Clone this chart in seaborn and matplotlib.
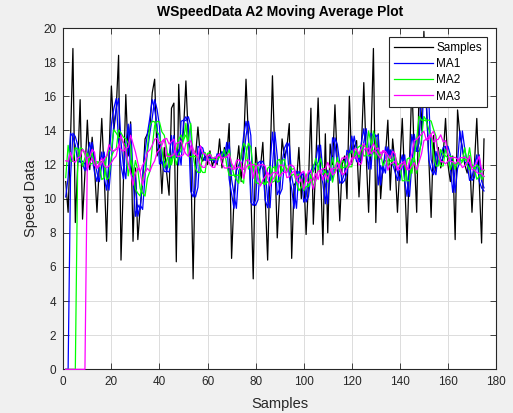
import matplotlib
matplotlib.use('Agg')
import matplotlib.pyplot as plt
import numpy as np
import pandas as pd
import seaborn as sns

# wind speed samples (x = 1..175)
samples = [
    11.0, 9.2, 13.5, 18.8, 8.6, 12.0, 15.8, 8.8, 11.5, 14.6, 11.7, 13.6, 11.8, 9.2, 12.0, 14.7, 11.5, 7.5, 12.5, 16.6, 14.0, 15.2, 18.4, 6.4, 11.0,
    16.1, 12.5, 14.5, 7.5, 11.8, 7.6, 9.5, 11.0, 13.5, 13.8, 14.2, 16.2, 17.0, 12.5, 13.3, 10.3, 13.0, 11.5, 10.2, 15.3, 15.6, 6.3, 16.7, 12.9, 14.0,
    16.9, 13.5, 12.5, 5.3, 12.5, 14.2, 12.5, 12.2, 12.5, 12.0, 12.8, 11.9, 12.4, 12.0, 13.5, 11.8, 13.0, 12.5, 14.4, 6.5, 10.0, 11.8, 13.1, 11.0, 13.0,
    17.0, 13.6, 10.5, 5.3, 13.0, 11.5, 11.8, 13.3, 10.0, 6.4, 12.0, 17.2, 12.5, 7.7, 10.5, 13.5, 12.4, 13.0, 14.4, 6.5, 10.8, 11.0, 13.0, 10.0, 11.5,
    7.9, 11.0, 15.3, 8.5, 12.0, 15.9, 11.5, 7.3, 13.8, 8.0, 13.2, 12.0, 15.5, 12.0, 8.7, 12.0, 12.5, 10.0, 16.0, 12.0, 13.0, 13.4, 10.1, 13.0, 16.8,
    12.5, 9.2, 13.5, 18.8, 8.6, 13.8, 10.0, 12.0, 12.5, 14.6, 10.5, 13.5, 12.0, 9.2, 12.0, 14.7, 11.0, 7.4, 12.0, 16.8, 12.5, 9.2, 16.6, 14.0, 19.8,
    15.5, 12.5, 8.9, 13.7, 11.6, 13.0, 11.8, 12.5, 14.7, 12.0, 11.0, 12.5, 7.6, 15.2, 13.7, 13.0, 12.0, 11.5, 12.5, 9.2, 12.0, 14.7, 11.0, 7.4, 13.5,
]
windows = [3, 6, 10]
names = ['MA1', 'MA2', 'MA3']
colors = ['#0000ff', '#00ff00', '#ff00ff']

x = np.arange(1, len(samples) + 1)
s = pd.Series(samples, index=x)


def centered_mean(vals, k):
    # like matlab movmean: shrinks at the ends
    before = k // 2
    after = k - before - 1
    out = []
    for i in range(len(vals)):
        out.append(np.mean(vals[max(0, i - before):i + after + 1]))
    return np.array(out)


plt.rcParams['font.family'] = ['Liberation Sans', 'DejaVu Sans']
fig = plt.figure(figsize=(5.13, 4.13), dpi=100, facecolor='#f0f0f0')
ax = fig.add_axes([0.1234, 0.1058, 0.8435, 0.8264])
ax.set_facecolor('white')

sns.lineplot(x=x, y=samples, color='black', linewidth=0.9, ax=ax)
handles = [ax.lines[-1]]
for k, name, c in zip(windows, names, colors):
    trailing = s.rolling(k).mean().fillna(0).values
    sns.lineplot(x=x, y=trailing, color=c, linewidth=0.9, ax=ax, clip_on=False)
    handles.append(ax.lines[-1])
    sns.lineplot(x=x, y=centered_mean(np.array(samples), k), color=c, linewidth=0.9, ax=ax)

ax.set_xlim(0, 180)
ax.set_ylim(0, 20)
ax.set_xticks(range(0, 181, 20))
ax.set_yticks(range(0, 21, 2))
ax.grid(True, color='#dcdcdc', linewidth=0.7)
ax.set_axisbelow(True)
for sp in ax.spines.values():
    sp.set_color('#262626')
    sp.set_linewidth(0.8)
    sp.set_zorder(1.5)
ax.tick_params(direction='in', top=True, right=True, labelsize=8.5, colors='#262626', length=4, width=0.6, pad=5)

ax.set_title('WSpeedData A2 Moving Average Plot', fontsize=10, fontweight='bold', pad=9)
ax.set_xlabel('Samples', fontsize=10.5, color='#262626', labelpad=6)
ax.set_ylabel('Speed Data', fontsize=10.5, color='#262626', labelpad=4)

leg = ax.legend(handles, ['Samples'] + names, loc='upper right', fontsize=8.5, frameon=True,
                fancybox=False, framealpha=1, edgecolor='#262626', handlelength=3.3,
                borderaxespad=0.8, labelspacing=0.35, handletextpad=0.3, borderpad=0.4)
leg.get_frame().set_linewidth(0.8)
leg.set_zorder(5)

fig.savefig('out.png', dpi=100, facecolor=fig.get_facecolor())
